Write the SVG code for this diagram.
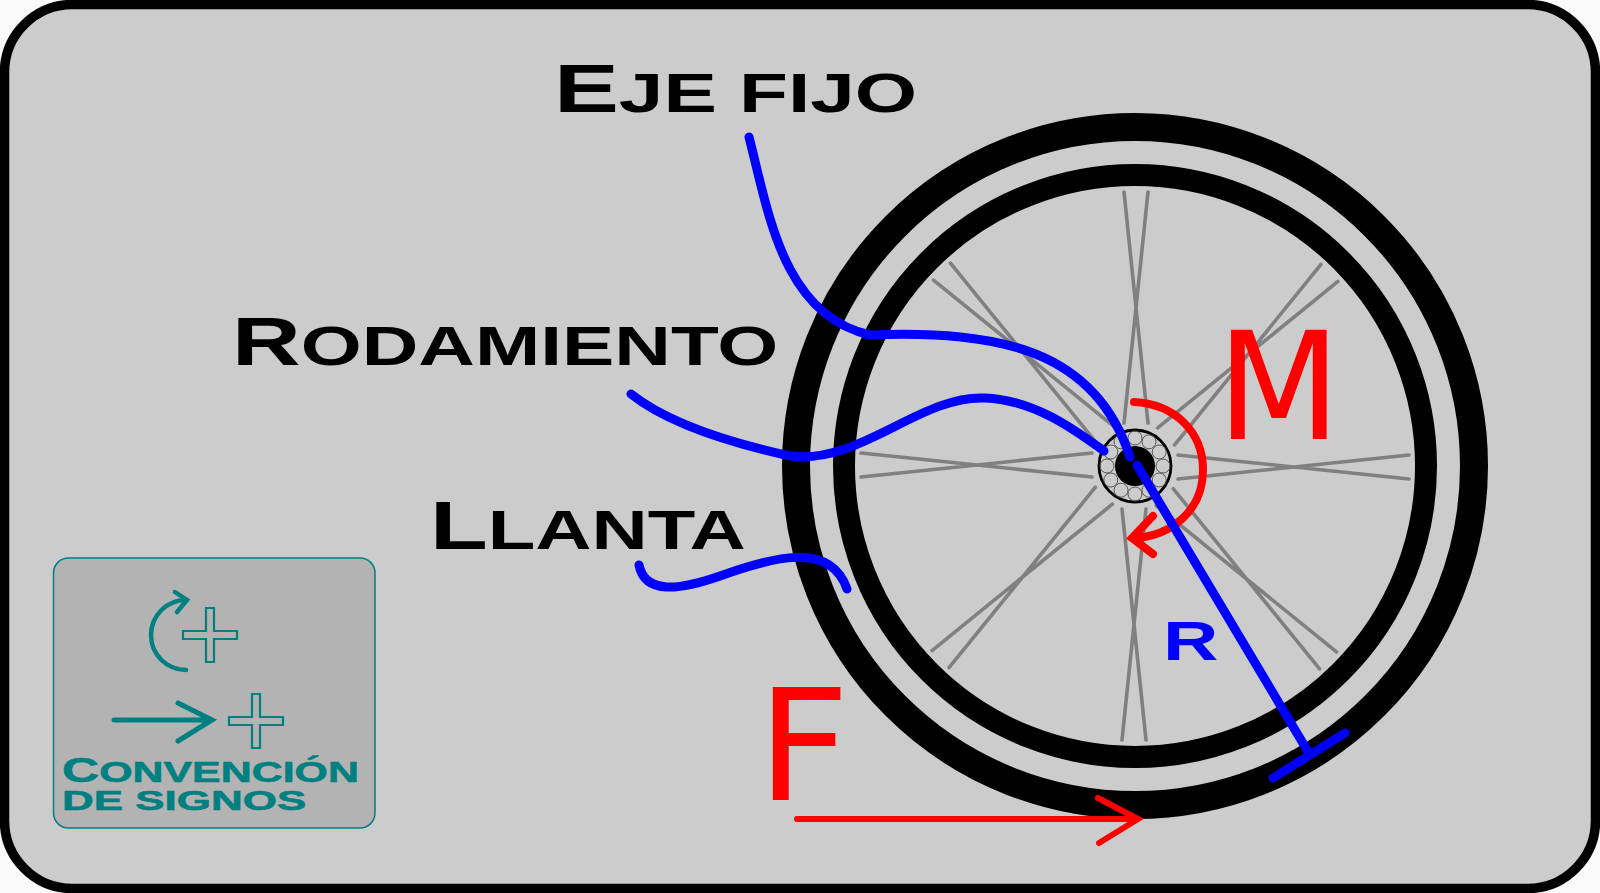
<svg xmlns="http://www.w3.org/2000/svg" xmlns:xlink="http://www.w3.org/1999/xlink" width="1600" height="893" viewBox="0 0 1600 893">
<style>
.lab{font-family:"Liberation Sans",Arial,sans-serif;font-weight:700;fill:#000}
.up{text-transform:uppercase}
.big{font-family:"DejaVu Sans",sans-serif;fill:#f00}
.blue{fill:none;stroke:#00f;stroke-width:9;stroke-linecap:round}
.red{fill:none;stroke:#f00;stroke-linecap:round;stroke-linejoin:miter}
.teal{fill:none;stroke:#008080;stroke-linecap:round}
.spoke{stroke:#808080;stroke-width:3.6;stroke-linecap:round;fill:none}
.ball{fill:none;stroke:#555;stroke-width:1}
</style>
<defs>
<g id="pair"><path class="spoke" d="M-11,-274L13,-43M13,-274L-11,-43"/></g>
<path id="cross" d="M-4,-27H4V-4H27V4H4V27H-4V4H-27V-4H-4Z" fill="none" stroke="#008080" stroke-width="2.2"/>
</defs>
<rect width="1600" height="893" fill="#fafafa"/>
<rect id="frame" x="4.5" y="4.5" width="1591" height="884" rx="68" ry="68" fill="#ccc" stroke="#000" stroke-width="9.5"/>
<g id="wheel" transform="translate(1135,466)">
<circle r="339" fill="none" stroke="#000" stroke-width="28"/>
<circle r="291" fill="none" stroke="#000" stroke-width="22"/>
<use xlink:href="#pair"/>
<use xlink:href="#pair" transform="rotate(45)"/>
<use xlink:href="#pair" transform="rotate(90)"/>
<use xlink:href="#pair" transform="rotate(135)"/>
<use xlink:href="#pair" transform="rotate(180)"/>
<use xlink:href="#pair" transform="rotate(225)"/>
<use xlink:href="#pair" transform="rotate(270)"/>
<use xlink:href="#pair" transform="rotate(315)"/>
</g>
<g id="bearing" transform="translate(1135,466)">
<circle r="36" fill="#ccc" stroke="#000" stroke-width="2.8"/>
<circle class="ball" cx="0" cy="-28" r="7"/><circle class="ball" cx="14" cy="-24.2" r="7"/><circle class="ball" cx="24.2" cy="-14" r="7"/><circle class="ball" cx="28" cy="0" r="7"/><circle class="ball" cx="24.2" cy="14" r="7"/><circle class="ball" cx="14" cy="24.2" r="7"/><circle class="ball" cx="0" cy="28" r="7"/><circle class="ball" cx="-14" cy="24.2" r="7"/><circle class="ball" cx="-24.2" cy="14" r="7"/><circle class="ball" cx="-28" cy="0" r="7"/><circle class="ball" cx="-24.2" cy="-14" r="7"/><circle class="ball" cx="-14" cy="-24.2" r="7"/>
<circle r="20" fill="#000"/>
</g>
<g id="moment">
<path class="red" stroke-width="8" d="M1134,402C1175,404 1203,432 1203,470C1203,510 1172,536 1134,538"/>
<path class="red" stroke-width="8" d="M1153,516L1132,538L1153,554"/>
<text class="big" transform="translate(1217,439) scale(.955,1)" font-size="150">M</text>
</g>
<g id="force">
<path class="red" stroke-width="6" d="M797,819H1138M1098,798L1138,819L1099,843"/>
<text class="big" transform="translate(757,800) scale(1.04,1)" font-size="155">F</text>
</g>
<g id="connectors">
<path class="blue" d="M749,137C768,210 782,315 870,335C1000,330 1095,350 1130,457"/>
<path class="blue" d="M631,394C670,425 740,445 790,456C860,465 920,395 985,398C1035,400 1075,430 1104,451"/>
<path class="blue" d="M639,565C645,595 680,590 720,576C770,558 830,540 847,589"/>
<path class="blue" d="M1137,465L1310,755M1345,733L1273,778"/>
</g>
<g id="label-eje"><text class="lab" transform="translate(554,112) scale(1.43,1)" font-size="68">E<tspan class="up" font-size="56">je fijo</tspan></text></g>
<g id="label-rodamiento"><text class="lab" transform="translate(232,365) scale(1.4,1)" font-size="68">R<tspan class="up" font-size="56">odamiento</tspan></text></g>
<g id="label-llanta"><text class="lab" transform="translate(430,549) scale(1.39,1)" font-size="68">L<tspan class="up" font-size="56">lanta</tspan></text></g>
<text id="label-r" transform="translate(1163,660) scale(1.37,1)" font-family="Liberation Sans,sans-serif" font-weight="700" font-size="56" fill="#00f">R</text>
<g id="convention">
<rect x="53.5" y="558" width="321.5" height="270" rx="15" fill="#b3b3b3" stroke="#008080" stroke-width="1.5"/>
<path class="teal" stroke-width="4.5" d="M186,670A35,35 0 0 1 186,600"/>
<path class="teal" stroke-width="4.5" d="M175,592L187,600L177,612"/>
<use xlink:href="#cross" transform="translate(210,635)"/>
<path class="teal" stroke-width="5" d="M114,720H212M178,703L212,720L178,741"/>
<use xlink:href="#cross" transform="translate(256,721)"/>
<text transform="translate(62,782) scale(1.43,1)" font-family="Liberation Sans,sans-serif" font-weight="700" font-size="36" fill="#008080" stroke="#008080" stroke-width=".6">C<tspan class="up" font-size="30">onvención</tspan></text>
<text class="up" transform="translate(62,810) scale(1.57,1)" font-family="Liberation Sans,sans-serif" font-weight="700" font-size="28" fill="#008080" stroke="#008080" stroke-width=".6">de signos</text>
</g>
</svg>
